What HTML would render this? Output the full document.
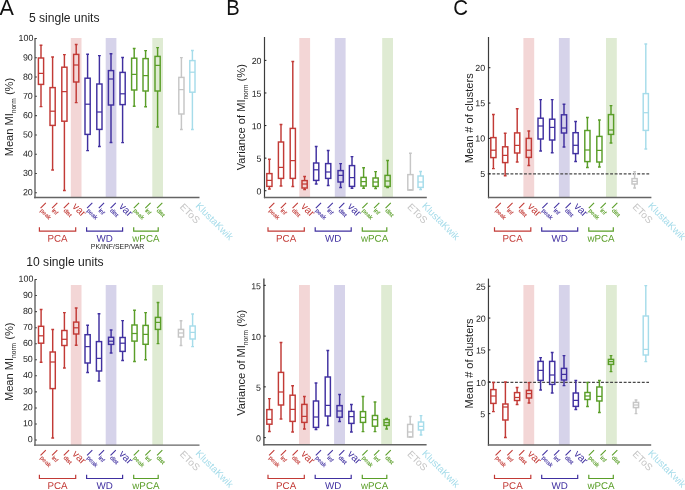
<!DOCTYPE html>
<html><head><meta charset="utf-8"><title>Figure</title>
<style>
html,body{margin:0;padding:0;background:#fff;}
body{width:685px;height:490px;overflow:hidden;}
svg{display:block;font-family:"Liberation Sans",Arial,Helvetica,sans-serif;}
</style></head><body>
<svg width="685" height="490" viewBox="0 0 685 490">
<rect width="685" height="490" fill="#fff"/>
<text transform="translate(-0.4,15.2) scale(1.05,1.05)" font-size="20.5" fill="#111">A</text>
<text transform="translate(226.3,15.2) scale(0.985,1.05)" font-size="20.5" fill="#111">B</text>
<text transform="translate(453.2,15.3) scale(1.0,1.05)" font-size="20.5" fill="#111">C</text>
<text x="28.9" y="22.1" font-size="12.1" fill="#1e1e1e">5 single units</text>
<text x="26.3" y="266.1" font-size="12.1" fill="#1e1e1e">10 single units</text>
<rect x="70.8" y="38" width="10.7" height="159.5" fill="#f3d6d6"/>
<rect x="105.7" y="38" width="10.7" height="159.5" fill="#d6d3ea"/>
<rect x="152.3" y="38" width="10.7" height="159.5" fill="#dfebd3"/>
<g stroke="#c23a36" stroke-width="1.45" fill="none">
<path d="M41 45.2V58M41 84.4V106.6M39.6 45.2H42.4M39.6 106.6H42.4"/>
<rect x="38.4" y="58" width="5.2" height="26.4"/>
<path d="M38.4 73.4H43.6" stroke-width="1.25"/>
</g>
<g stroke="#c23a36" stroke-width="1.45" fill="none">
<path d="M52.6 57V87.6M52.6 125.4V170M51.2 57H54.0M51.2 170H54.0"/>
<rect x="50.0" y="87.6" width="5.2" height="37.8"/>
<path d="M50.0 111.2H55.2" stroke-width="1.25"/>
</g>
<g stroke="#c23a36" stroke-width="1.45" fill="none">
<path d="M64.4 54.6V67.2M64.4 121.2V190.4M63.0 54.6H65.8M63.0 190.4H65.8"/>
<rect x="61.8" y="67.2" width="5.2" height="54.0"/>
<path d="M61.8 91.6H67.0" stroke-width="1.25"/>
</g>
<g stroke="#c23a36" stroke-width="1.45" fill="none">
<path d="M76.2 44.4V54.4M76.2 82V102.6M74.8 44.4H77.6M74.8 102.6H77.6"/>
<rect x="73.6" y="54.4" width="5.2" height="27.6"/>
<path d="M73.6 65H78.8" stroke-width="1.25"/>
</g>
<g stroke="#4030a0" stroke-width="1.45" fill="none">
<path d="M87.6 54.2V78.2M87.6 134.4V150.6M86.2 54.2H89.0M86.2 150.6H89.0"/>
<rect x="85.0" y="78.2" width="5.2" height="56.2"/>
<path d="M85.0 104.2H90.2" stroke-width="1.25"/>
</g>
<g stroke="#4030a0" stroke-width="1.45" fill="none">
<path d="M99.4 55.6V84M99.4 129.4V146.4M98.0 55.6H100.8M98.0 146.4H100.8"/>
<rect x="96.8" y="84" width="5.2" height="45.4"/>
<path d="M96.8 112H102.0" stroke-width="1.25"/>
</g>
<g stroke="#4030a0" stroke-width="1.45" fill="none">
<path d="M111 53.8V70.6M111 105V142.4M109.6 53.8H112.4M109.6 142.4H112.4"/>
<rect x="108.4" y="70.6" width="5.2" height="34.4"/>
<path d="M108.4 79H113.6" stroke-width="1.25"/>
</g>
<g stroke="#4030a0" stroke-width="1.45" fill="none">
<path d="M122.6 57.4V72.4M122.6 104.6V142.6M121.2 57.4H124.0M121.2 142.6H124.0"/>
<rect x="120.0" y="72.4" width="5.2" height="32.2"/>
<path d="M120.0 93.8H125.2" stroke-width="1.25"/>
</g>
<g stroke="#5a9e28" stroke-width="1.45" fill="none">
<path d="M134.2 48.4V58.2M134.2 90V106.2M132.8 48.4H135.6M132.8 106.2H135.6"/>
<rect x="131.6" y="58.2" width="5.2" height="31.8"/>
<path d="M131.6 74.4H136.8" stroke-width="1.25"/>
</g>
<g stroke="#5a9e28" stroke-width="1.45" fill="none">
<path d="M145.6 50.6V58.6M145.6 91V106.8M144.2 50.6H147.0M144.2 106.8H147.0"/>
<rect x="143.0" y="58.6" width="5.2" height="32.4"/>
<path d="M143.0 75.6H148.2" stroke-width="1.25"/>
</g>
<g stroke="#5a9e28" stroke-width="1.45" fill="none">
<path d="M157.6 47.6V56.4M157.6 91V127M156.2 47.6H159.0M156.2 127H159.0"/>
<rect x="155.0" y="56.4" width="5.2" height="34.6"/>
<path d="M155.0 65.4H160.2" stroke-width="1.25"/>
</g>
<g stroke="#c6c6c6" stroke-width="1.45" fill="none">
<path d="M181.4 57.6V77.4M181.4 114V129.4M180.0 57.6H182.8M180.0 129.4H182.8"/>
<rect x="178.8" y="77.4" width="5.2" height="36.6"/>
<path d="M178.8 89.6H184.0" stroke-width="1.25"/>
</g>
<g stroke="#a6dcea" stroke-width="1.45" fill="none">
<path d="M192.4 50.4V60.6M192.4 92.2V129.4M191.0 50.4H193.8M191.0 129.4H193.8"/>
<rect x="189.8" y="60.6" width="5.2" height="31.6"/>
<path d="M189.8 72.2H195.0" stroke-width="1.25"/>
</g>
<path d="M35.0 38.1V198.20" stroke="#868686" stroke-width="1.8" fill="none"/>
<path d="M34.10 197.5H199.5" stroke="#646464" stroke-width="1.4" fill="none"/>
<path d="M35.0 38.5h1.9" stroke="#444" stroke-width="1.05"/>
<text transform="translate(33.4,41.1) rotate(0.03)" font-size="8.9" text-anchor="end" fill="#1e1e1e">100</text>
<path d="M35.0 57.78h1.9" stroke="#444" stroke-width="1.05"/>
<text transform="translate(32.8,60.4) rotate(0.03)" font-size="8.9" text-anchor="end" fill="#1e1e1e">90</text>
<path d="M35.0 77.06h1.9" stroke="#444" stroke-width="1.05"/>
<text transform="translate(32.8,79.7) rotate(0.03)" font-size="8.9" text-anchor="end" fill="#1e1e1e">80</text>
<path d="M35.0 96.34h1.9" stroke="#444" stroke-width="1.05"/>
<text transform="translate(32.8,98.9) rotate(0.03)" font-size="8.9" text-anchor="end" fill="#1e1e1e">70</text>
<path d="M35.0 115.62h1.9" stroke="#444" stroke-width="1.05"/>
<text transform="translate(32.8,118.2) rotate(0.03)" font-size="8.9" text-anchor="end" fill="#1e1e1e">60</text>
<path d="M35.0 134.89999999999998h1.9" stroke="#444" stroke-width="1.05"/>
<text transform="translate(32.8,137.5) rotate(0.03)" font-size="8.9" text-anchor="end" fill="#1e1e1e">50</text>
<path d="M35.0 154.18h1.9" stroke="#444" stroke-width="1.05"/>
<text transform="translate(32.8,156.8) rotate(0.03)" font-size="8.9" text-anchor="end" fill="#1e1e1e">40</text>
<path d="M35.0 173.46h1.9" stroke="#444" stroke-width="1.05"/>
<text transform="translate(32.8,176.1) rotate(0.03)" font-size="8.9" text-anchor="end" fill="#1e1e1e">30</text>
<path d="M35.0 192.74h1.9" stroke="#444" stroke-width="1.05"/>
<text transform="translate(32.8,195.3) rotate(0.03)" font-size="8.9" text-anchor="end" fill="#1e1e1e">20</text>
<text transform="translate(39.5,206.9) rotate(45)" font-size="10.8" fill="#c23a36">I<tspan dy="2.6" dx="0.1" font-size="5.8" stroke="#c23a36" stroke-width="0.12">peak</tspan></text>
<text transform="translate(51.1,206.9) rotate(45)" font-size="10.8" fill="#c23a36">I<tspan dy="2.6" dx="0.1" font-size="5.8" stroke="#c23a36" stroke-width="0.12">inf</tspan></text>
<text transform="translate(62.8,206.9) rotate(45)" font-size="10.8" fill="#c23a36">I<tspan dy="2.6" dx="0.1" font-size="5.8" stroke="#c23a36" stroke-width="0.12">dist</tspan></text>
<text transform="translate(71.8,207.1) rotate(45)" font-size="10.4" fill="#c23a36">var</text>
<text transform="translate(86.1,206.9) rotate(45)" font-size="10.8" fill="#4030a0">I<tspan dy="2.6" dx="0.1" font-size="5.8" stroke="#4030a0" stroke-width="0.12">peak</tspan></text>
<text transform="translate(97.8,206.9) rotate(45)" font-size="10.8" fill="#4030a0">I<tspan dy="2.6" dx="0.1" font-size="5.8" stroke="#4030a0" stroke-width="0.12">inf</tspan></text>
<text transform="translate(109.4,206.9) rotate(45)" font-size="10.8" fill="#4030a0">I<tspan dy="2.6" dx="0.1" font-size="5.8" stroke="#4030a0" stroke-width="0.12">dist</tspan></text>
<text transform="translate(118.4,207.1) rotate(45)" font-size="10.4" fill="#4030a0">var</text>
<text transform="translate(132.7,206.9) rotate(45)" font-size="10.8" fill="#5a9e28">I<tspan dy="2.6" dx="0.1" font-size="5.8" stroke="#5a9e28" stroke-width="0.12">peak</tspan></text>
<text transform="translate(144.3,206.9) rotate(45)" font-size="10.8" fill="#5a9e28">I<tspan dy="2.6" dx="0.1" font-size="5.8" stroke="#5a9e28" stroke-width="0.12">inf</tspan></text>
<text transform="translate(156.0,206.9) rotate(45)" font-size="10.8" fill="#5a9e28">I<tspan dy="2.6" dx="0.1" font-size="5.8" stroke="#5a9e28" stroke-width="0.12">dist</tspan></text>
<text transform="translate(179.2,207.4) rotate(45)" font-size="9.9" fill="#c6c6c6">EToS</text>
<text transform="translate(195.0,206.6) rotate(45)" font-size="9.9" fill="#a6dcea">KlustaKwik</text>
<path d="M39.4 227.3V231.1H75.7V227.3" stroke="#c23a36" stroke-width="1.2" fill="none"/>
<text transform="translate(57.5,241.7) rotate(0.03)" font-size="9.8" text-anchor="middle" fill="#c23a36">PCA</text>
<path d="M86.6 227.3V231.1H122.6V227.3" stroke="#4030a0" stroke-width="1.2" fill="none"/>
<text transform="translate(104.6,241.7) rotate(0.03)" font-size="9.8" text-anchor="middle" fill="#4030a0">WD</text>
<path d="M133.7 227.3V231.1H158.2V227.3" stroke="#5a9e28" stroke-width="1.2" fill="none"/>
<text transform="translate(145.9,241.7) rotate(0.03)" font-size="9.8" text-anchor="middle" fill="#5a9e28">wPCA</text>
<text x="117.6" y="249.4" font-size="6.9" text-anchor="middle" fill="#222">PK/INF/SEP/VAR</text>
<text transform="translate(12.6,117.1) rotate(-90)" font-size="11.1" text-anchor="middle" fill="#1e1e1e">Mean MI<tspan dy="3.4" font-size="6.6">norm</tspan><tspan dy="-3.4"> (%)</tspan></text>
<rect x="299.3" y="38" width="10.8" height="159.5" fill="#f3d6d6"/>
<rect x="334.8" y="38" width="10.8" height="159.5" fill="#d6d3ea"/>
<rect x="382.2" y="38" width="10.8" height="159.5" fill="#dfebd3"/>
<g stroke="#c23a36" stroke-width="1.45" fill="none">
<path d="M269.4 159.2V173.6M269.4 186.4V189M268.0 159.2H270.8M268.0 189H270.8"/>
<rect x="266.8" y="173.6" width="5.2" height="12.8"/>
<path d="M266.8 180.4H272.0" stroke-width="1.25"/>
</g>
<g stroke="#c23a36" stroke-width="1.45" fill="none">
<path d="M281 124.4V142M281 178.4V186M279.6 124.4H282.4M279.6 186H282.4"/>
<rect x="278.4" y="142" width="5.2" height="36.4"/>
<path d="M278.4 167.4H283.6" stroke-width="1.25"/>
</g>
<g stroke="#c23a36" stroke-width="1.45" fill="none">
<path d="M292.8 61.4V128.4M292.8 178.4V186.4M291.4 61.4H294.2M291.4 186.4H294.2"/>
<rect x="290.2" y="128.4" width="5.2" height="50.0"/>
<path d="M290.2 160.6H295.4" stroke-width="1.25"/>
</g>
<g stroke="#c23a36" stroke-width="1.45" fill="none">
<path d="M304.6 176.4V180.6M304.6 188V189.4M303.2 176.4H306.0M303.2 189.4H306.0"/>
<rect x="302.0" y="180.6" width="5.2" height="7.4"/>
<path d="M302.0 184H307.2" stroke-width="1.25"/>
</g>
<g stroke="#4030a0" stroke-width="1.45" fill="none">
<path d="M316.2 146.4V163M316.2 180.4V184M314.8 146.4H317.6M314.8 184H317.6"/>
<rect x="313.6" y="163" width="5.2" height="17.4"/>
<path d="M313.6 169.8H318.8" stroke-width="1.25"/>
</g>
<g stroke="#4030a0" stroke-width="1.45" fill="none">
<path d="M328.2 150.4V163.6M328.2 178.4V185.4M326.8 150.4H329.6M326.8 185.4H329.6"/>
<rect x="325.6" y="163.6" width="5.2" height="14.8"/>
<path d="M325.6 172H330.8" stroke-width="1.25"/>
</g>
<g stroke="#4030a0" stroke-width="1.45" fill="none">
<path d="M340.6 163.6V170.6M340.6 182V187.4M339.2 163.6H342.0M339.2 187.4H342.0"/>
<rect x="338.0" y="170.6" width="5.2" height="11.4"/>
<path d="M338.0 175.4H343.2" stroke-width="1.25"/>
</g>
<g stroke="#4030a0" stroke-width="1.45" fill="none">
<path d="M352 156.6V165.6M352 186.4V188.2M350.6 156.6H353.4M350.6 188.2H353.4"/>
<rect x="349.4" y="165.6" width="5.2" height="20.8"/>
<path d="M349.4 177.6H354.6" stroke-width="1.25"/>
</g>
<g stroke="#5a9e28" stroke-width="1.45" fill="none">
<path d="M363.6 167.8V177.4M363.6 186V188.2M362.2 167.8H365.0M362.2 188.2H365.0"/>
<rect x="361.0" y="177.4" width="5.2" height="8.6"/>
<path d="M361.0 181.6H366.2" stroke-width="1.25"/>
</g>
<g stroke="#5a9e28" stroke-width="1.45" fill="none">
<path d="M375.6 171.6V178M375.6 186.4V188.4M374.2 171.6H377.0M374.2 188.4H377.0"/>
<rect x="373.0" y="178" width="5.2" height="8.4"/>
<path d="M373.0 182H378.2" stroke-width="1.25"/>
</g>
<g stroke="#5a9e28" stroke-width="1.45" fill="none">
<path d="M387.6 160.4V175.4M387.6 186.4V187.4M386.2 160.4H389.0M386.2 187.4H389.0"/>
<rect x="385.0" y="175.4" width="5.2" height="11.0"/>
<path d="M385.0 181H390.2" stroke-width="1.25"/>
</g>
<g stroke="#c6c6c6" stroke-width="1.45" fill="none">
<path d="M410.4 153.2V174.6M410.4 190V190M409.0 153.2H411.8M409.0 190H411.8"/>
<rect x="407.8" y="174.6" width="5.2" height="15.4"/>
<path d="M407.8 190H413.0" stroke-width="1.25"/>
</g>
<g stroke="#a6dcea" stroke-width="1.45" fill="none">
<path d="M420.6 171.4V176M420.6 187.4V189.4M419.2 171.4H422.0M419.2 189.4H422.0"/>
<rect x="418.0" y="176" width="5.2" height="11.4"/>
<path d="M418.0 182H423.2" stroke-width="1.25"/>
</g>
<path d="M264.5 37V198.20" stroke="#3c3c3c" stroke-width="1.2" fill="none"/>
<path d="M263.90 197.5H426.8" stroke="#646464" stroke-width="1.4" fill="none"/>
<path d="M264.5 60.400000000000006h1.9" stroke="#262626" stroke-width="1.05"/>
<text transform="translate(261.5,64.1) rotate(0.03)" font-size="8.9" text-anchor="end" fill="#1e1e1e">20</text>
<path d="M264.5 92.975h1.9" stroke="#262626" stroke-width="1.05"/>
<text transform="translate(261.5,96.7) rotate(0.03)" font-size="8.9" text-anchor="end" fill="#1e1e1e">15</text>
<path d="M264.5 125.55h1.9" stroke="#262626" stroke-width="1.05"/>
<text transform="translate(261.5,129.2) rotate(0.03)" font-size="8.9" text-anchor="end" fill="#1e1e1e">10</text>
<path d="M264.5 158.125h1.9" stroke="#262626" stroke-width="1.05"/>
<text transform="translate(261.5,161.8) rotate(0.03)" font-size="8.9" text-anchor="end" fill="#1e1e1e">5</text>
<path d="M264.5 190.7h1.9" stroke="#262626" stroke-width="1.05"/>
<text transform="translate(261.5,194.4) rotate(0.03)" font-size="8.9" text-anchor="end" fill="#1e1e1e">0</text>
<text transform="translate(268.1,206.9) rotate(45)" font-size="10.8" fill="#c23a36">I<tspan dy="2.6" dx="0.1" font-size="5.8" stroke="#c23a36" stroke-width="0.12">peak</tspan></text>
<text transform="translate(279.8,206.9) rotate(45)" font-size="10.8" fill="#c23a36">I<tspan dy="2.6" dx="0.1" font-size="5.8" stroke="#c23a36" stroke-width="0.12">inf</tspan></text>
<text transform="translate(291.4,206.9) rotate(45)" font-size="10.8" fill="#c23a36">I<tspan dy="2.6" dx="0.1" font-size="5.8" stroke="#c23a36" stroke-width="0.12">dist</tspan></text>
<text transform="translate(300.4,207.1) rotate(45)" font-size="10.4" fill="#c23a36">var</text>
<text transform="translate(314.7,206.9) rotate(45)" font-size="10.8" fill="#4030a0">I<tspan dy="2.6" dx="0.1" font-size="5.8" stroke="#4030a0" stroke-width="0.12">peak</tspan></text>
<text transform="translate(326.4,206.9) rotate(45)" font-size="10.8" fill="#4030a0">I<tspan dy="2.6" dx="0.1" font-size="5.8" stroke="#4030a0" stroke-width="0.12">inf</tspan></text>
<text transform="translate(338.0,206.9) rotate(45)" font-size="10.8" fill="#4030a0">I<tspan dy="2.6" dx="0.1" font-size="5.8" stroke="#4030a0" stroke-width="0.12">dist</tspan></text>
<text transform="translate(347.1,207.1) rotate(45)" font-size="10.4" fill="#4030a0">var</text>
<text transform="translate(361.3,206.9) rotate(45)" font-size="10.8" fill="#5a9e28">I<tspan dy="2.6" dx="0.1" font-size="5.8" stroke="#5a9e28" stroke-width="0.12">peak</tspan></text>
<text transform="translate(373.0,206.9) rotate(45)" font-size="10.8" fill="#5a9e28">I<tspan dy="2.6" dx="0.1" font-size="5.8" stroke="#5a9e28" stroke-width="0.12">inf</tspan></text>
<text transform="translate(384.6,206.9) rotate(45)" font-size="10.8" fill="#5a9e28">I<tspan dy="2.6" dx="0.1" font-size="5.8" stroke="#5a9e28" stroke-width="0.12">dist</tspan></text>
<text transform="translate(406.8,207.4) rotate(45)" font-size="9.9" fill="#c6c6c6">EToS</text>
<text transform="translate(421.4,206.6) rotate(45)" font-size="9.9" fill="#a6dcea">KlustaKwik</text>
<path d="M268.0 227.3V231.1H304.3V227.3" stroke="#c23a36" stroke-width="1.2" fill="none"/>
<text transform="translate(286.1,241.7) rotate(0.03)" font-size="9.8" text-anchor="middle" fill="#c23a36">PCA</text>
<path d="M315.2 227.3V231.1H351.2V227.3" stroke="#4030a0" stroke-width="1.2" fill="none"/>
<text transform="translate(333.2,241.7) rotate(0.03)" font-size="9.8" text-anchor="middle" fill="#4030a0">WD</text>
<path d="M362.3 227.3V231.1H386.8V227.3" stroke="#5a9e28" stroke-width="1.2" fill="none"/>
<text transform="translate(374.6,241.7) rotate(0.03)" font-size="9.8" text-anchor="middle" fill="#5a9e28">wPCA</text>
<text transform="translate(245.0,117.2) rotate(-90)" font-size="11.1" text-anchor="middle" fill="#1e1e1e">Variance of MI<tspan dy="3.4" font-size="6.6">norm</tspan><tspan dy="-3.4"> (%)</tspan></text>
<rect x="523.4" y="38" width="10.8" height="159.5" fill="#f3d6d6"/>
<rect x="558.9" y="38" width="10.8" height="159.5" fill="#d6d3ea"/>
<rect x="606" y="38" width="10.8" height="159.5" fill="#dfebd3"/>
<line x1="487.8" y1="173.8" x2="649.2" y2="173.8" stroke="#484848" stroke-width="1.15" stroke-dasharray="2.9 1.63"/>
<g stroke="#c23a36" stroke-width="1.45" fill="none">
<path d="M493.4 114.4V137.6M493.4 157.6V168.6M492.0 114.4H494.8M492.0 168.6H494.8"/>
<rect x="490.8" y="137.6" width="5.2" height="20.0"/>
<path d="M490.8 150.2H496.0" stroke-width="1.25"/>
</g>
<g stroke="#c23a36" stroke-width="1.45" fill="none">
<path d="M505.2 133.2V146.8M505.2 162.6V175.8M503.8 133.2H506.6M503.8 175.8H506.6"/>
<rect x="502.6" y="146.8" width="5.2" height="15.8"/>
<path d="M502.6 155.4H507.8" stroke-width="1.25"/>
</g>
<g stroke="#c23a36" stroke-width="1.45" fill="none">
<path d="M517.2 108.8V132.9M517.2 153V162M515.8 108.8H518.6M515.8 162H518.6"/>
<rect x="514.6" y="132.9" width="5.2" height="20.1"/>
<path d="M514.6 145.4H519.8" stroke-width="1.25"/>
</g>
<g stroke="#c23a36" stroke-width="1.45" fill="none">
<path d="M528.8 131V138.4M528.8 157.4V165.4M527.4 131H530.2M527.4 165.4H530.2"/>
<rect x="526.2" y="138.4" width="5.2" height="19.0"/>
<path d="M526.2 150.2H531.4" stroke-width="1.25"/>
</g>
<g stroke="#4030a0" stroke-width="1.45" fill="none">
<path d="M540.6 99.6V118.2M540.6 139V151M539.2 99.6H542.0M539.2 151H542.0"/>
<rect x="538.0" y="118.2" width="5.2" height="20.8"/>
<path d="M538.0 126H543.2" stroke-width="1.25"/>
</g>
<g stroke="#4030a0" stroke-width="1.45" fill="none">
<path d="M552.2 99.6V119.2M552.2 140V152.8M550.8 99.6H553.6M550.8 152.8H553.6"/>
<rect x="549.6" y="119.2" width="5.2" height="20.8"/>
<path d="M549.6 127.4H554.8" stroke-width="1.25"/>
</g>
<g stroke="#4030a0" stroke-width="1.45" fill="none">
<path d="M564 104.2V114.8M564 133V147M562.6 104.2H565.4M562.6 147H565.4"/>
<rect x="561.4" y="114.8" width="5.2" height="18.2"/>
<path d="M561.4 128H566.6" stroke-width="1.25"/>
</g>
<g stroke="#4030a0" stroke-width="1.45" fill="none">
<path d="M575.6 121.5V132.7M575.6 153.6V161.4M574.2 121.5H577.0M574.2 161.4H577.0"/>
<rect x="573.0" y="132.7" width="5.2" height="20.9"/>
<path d="M573.0 145.3H578.2" stroke-width="1.25"/>
</g>
<g stroke="#5a9e28" stroke-width="1.45" fill="none">
<path d="M587.4 117.5V130.5M587.4 161.6V167.4M586.0 117.5H588.8M586.0 167.4H588.8"/>
<rect x="584.8" y="130.5" width="5.2" height="31.1"/>
<path d="M584.8 150H590.0" stroke-width="1.25"/>
</g>
<g stroke="#5a9e28" stroke-width="1.45" fill="none">
<path d="M599.4 120V136.4M599.4 162V167M598.0 120H600.8M598.0 167H600.8"/>
<rect x="596.8" y="136.4" width="5.2" height="25.6"/>
<path d="M596.8 150.4H602.0" stroke-width="1.25"/>
</g>
<g stroke="#5a9e28" stroke-width="1.45" fill="none">
<path d="M611 105.6V114.6M611 134.4V143M609.6 105.6H612.4M609.6 143H612.4"/>
<rect x="608.4" y="114.6" width="5.2" height="19.8"/>
<path d="M608.4 130H613.6" stroke-width="1.25"/>
</g>
<g stroke="#c6c6c6" stroke-width="1.45" fill="none">
<path d="M634.6 171.6V178.6M634.6 184V188M633.2 171.6H636.0M633.2 188H636.0"/>
<rect x="632.0" y="178.6" width="5.2" height="5.4"/>
<path d="M632.0 181.4H637.2" stroke-width="1.25"/>
</g>
<g stroke="#a6dcea" stroke-width="1.45" fill="none">
<path d="M645.8 44V93.6M645.8 130.4V149M644.4 44H647.2M644.4 149H647.2"/>
<rect x="643.2" y="93.6" width="5.2" height="36.8"/>
<path d="M643.2 112.7H648.4" stroke-width="1.25"/>
</g>
<path d="M488.5 37V198.20" stroke="#3c3c3c" stroke-width="1.2" fill="none"/>
<path d="M487.90 197.5H651.4" stroke="#646464" stroke-width="1.4" fill="none"/>
<path d="M488.5 67.7h1.9" stroke="#262626" stroke-width="1.05"/>
<text transform="translate(485.1,70.9) rotate(0.03)" font-size="8.9" text-anchor="end" fill="#1e1e1e">20</text>
<path d="M488.5 103.05000000000001h1.9" stroke="#262626" stroke-width="1.05"/>
<text transform="translate(485.1,106.3) rotate(0.03)" font-size="8.9" text-anchor="end" fill="#1e1e1e">15</text>
<path d="M488.5 138.4h1.9" stroke="#262626" stroke-width="1.05"/>
<text transform="translate(485.1,141.6) rotate(0.03)" font-size="8.9" text-anchor="end" fill="#1e1e1e">10</text>
<path d="M488.5 173.75h1.9" stroke="#262626" stroke-width="1.05"/>
<text transform="translate(485.1,176.9) rotate(0.03)" font-size="8.9" text-anchor="end" fill="#1e1e1e">5</text>
<text transform="translate(494.6,206.9) rotate(45)" font-size="10.8" fill="#c23a36">I<tspan dy="2.6" dx="0.1" font-size="5.8" stroke="#c23a36" stroke-width="0.12">peak</tspan></text>
<text transform="translate(506.2,206.9) rotate(45)" font-size="10.8" fill="#c23a36">I<tspan dy="2.6" dx="0.1" font-size="5.8" stroke="#c23a36" stroke-width="0.12">inf</tspan></text>
<text transform="translate(517.9,206.9) rotate(45)" font-size="10.8" fill="#c23a36">I<tspan dy="2.6" dx="0.1" font-size="5.8" stroke="#c23a36" stroke-width="0.12">dist</tspan></text>
<text transform="translate(527.0,207.1) rotate(45)" font-size="10.4" fill="#c23a36">var</text>
<text transform="translate(541.2,206.9) rotate(45)" font-size="10.8" fill="#4030a0">I<tspan dy="2.6" dx="0.1" font-size="5.8" stroke="#4030a0" stroke-width="0.12">peak</tspan></text>
<text transform="translate(552.9,206.9) rotate(45)" font-size="10.8" fill="#4030a0">I<tspan dy="2.6" dx="0.1" font-size="5.8" stroke="#4030a0" stroke-width="0.12">inf</tspan></text>
<text transform="translate(564.5,206.9) rotate(45)" font-size="10.8" fill="#4030a0">I<tspan dy="2.6" dx="0.1" font-size="5.8" stroke="#4030a0" stroke-width="0.12">dist</tspan></text>
<text transform="translate(573.5,207.1) rotate(45)" font-size="10.4" fill="#4030a0">var</text>
<text transform="translate(587.8,206.9) rotate(45)" font-size="10.8" fill="#5a9e28">I<tspan dy="2.6" dx="0.1" font-size="5.8" stroke="#5a9e28" stroke-width="0.12">peak</tspan></text>
<text transform="translate(599.5,206.9) rotate(45)" font-size="10.8" fill="#5a9e28">I<tspan dy="2.6" dx="0.1" font-size="5.8" stroke="#5a9e28" stroke-width="0.12">inf</tspan></text>
<text transform="translate(611.1,206.9) rotate(45)" font-size="10.8" fill="#5a9e28">I<tspan dy="2.6" dx="0.1" font-size="5.8" stroke="#5a9e28" stroke-width="0.12">dist</tspan></text>
<text transform="translate(632.0,207.4) rotate(45)" font-size="9.9" fill="#c6c6c6">EToS</text>
<text transform="translate(647.6,206.6) rotate(45)" font-size="9.9" fill="#a6dcea">KlustaKwik</text>
<path d="M494.5 227.3V231.1H530.8V227.3" stroke="#c23a36" stroke-width="1.2" fill="none"/>
<text transform="translate(512.6,241.7) rotate(0.03)" font-size="9.8" text-anchor="middle" fill="#c23a36">PCA</text>
<path d="M541.7 227.3V231.1H577.7V227.3" stroke="#4030a0" stroke-width="1.2" fill="none"/>
<text transform="translate(559.7,241.7) rotate(0.03)" font-size="9.8" text-anchor="middle" fill="#4030a0">WD</text>
<path d="M588.8 227.3V231.1H613.3V227.3" stroke="#5a9e28" stroke-width="1.2" fill="none"/>
<text transform="translate(601.0,241.7) rotate(0.03)" font-size="9.8" text-anchor="middle" fill="#5a9e28">wPCA</text>
<text transform="translate(472.6,118.3) rotate(-90)" font-size="11" text-anchor="middle" fill="#1e1e1e">Mean # of clusters</text>
<rect x="70.8" y="285" width="10.7" height="160.1" fill="#f3d6d6"/>
<rect x="105.7" y="285" width="10.7" height="160.1" fill="#d6d3ea"/>
<rect x="152.3" y="285" width="10.7" height="160.1" fill="#dfebd3"/>
<g stroke="#c23a36" stroke-width="1.45" fill="none">
<path d="M41.1 309.4V326.3M41.1 343.2V362.2M39.7 309.4H42.5M39.7 362.2H42.5"/>
<rect x="38.5" y="326.3" width="5.2" height="16.9"/>
<path d="M38.5 335.8H43.7" stroke-width="1.25"/>
</g>
<g stroke="#c23a36" stroke-width="1.45" fill="none">
<path d="M52.7 329.5V352M52.7 388.6V438M51.3 329.5H54.1M51.3 438H54.1"/>
<rect x="50.1" y="352" width="5.2" height="36.6"/>
<path d="M50.1 362H55.3" stroke-width="1.25"/>
</g>
<g stroke="#c23a36" stroke-width="1.45" fill="none">
<path d="M64.4 312.6V330.5M64.4 345.5V368M63.0 312.6H65.8M63.0 368H65.8"/>
<rect x="61.8" y="330.5" width="5.2" height="15.0"/>
<path d="M61.8 339.3H67.0" stroke-width="1.25"/>
</g>
<g stroke="#c23a36" stroke-width="1.45" fill="none">
<path d="M76.2 308V322.1M76.2 334V345.3M74.8 308H77.6M74.8 345.3H77.6"/>
<rect x="73.6" y="322.1" width="5.2" height="11.9"/>
<path d="M73.6 327.8H78.8" stroke-width="1.25"/>
</g>
<g stroke="#4030a0" stroke-width="1.45" fill="none">
<path d="M87.6 325.3V334.7M87.6 363V372.4M86.2 325.3H89.0M86.2 372.4H89.0"/>
<rect x="85.0" y="334.7" width="5.2" height="28.3"/>
<path d="M85.0 346.6H90.2" stroke-width="1.25"/>
</g>
<g stroke="#4030a0" stroke-width="1.45" fill="none">
<path d="M99 313.8V341.6M99 371V381M97.6 313.8H100.4M97.6 381H100.4"/>
<rect x="96.4" y="341.6" width="5.2" height="29.4"/>
<path d="M96.4 358.4H101.6" stroke-width="1.25"/>
</g>
<g stroke="#4030a0" stroke-width="1.45" fill="none">
<path d="M111.1 330V337.3M111.1 344.4V353M109.7 330H112.5M109.7 353H112.5"/>
<rect x="108.5" y="337.3" width="5.2" height="7.1"/>
<path d="M108.5 341.2H113.7" stroke-width="1.25"/>
</g>
<g stroke="#4030a0" stroke-width="1.45" fill="none">
<path d="M122.6 320.6V337.5M122.6 351.4V360.5M121.2 320.6H124.0M121.2 360.5H124.0"/>
<rect x="120.0" y="337.5" width="5.2" height="13.9"/>
<path d="M120.0 343.2H125.2" stroke-width="1.25"/>
</g>
<g stroke="#5a9e28" stroke-width="1.45" fill="none">
<path d="M134.5 310.2V325M134.5 341.1V361.5M133.1 310.2H135.9M133.1 361.5H135.9"/>
<rect x="131.9" y="325" width="5.2" height="16.1"/>
<path d="M131.9 333.5H137.1" stroke-width="1.25"/>
</g>
<g stroke="#5a9e28" stroke-width="1.45" fill="none">
<path d="M145.6 312.6V325.4M145.6 344.3V359.8M144.2 312.6H147.0M144.2 359.8H147.0"/>
<rect x="143.0" y="325.4" width="5.2" height="18.9"/>
<path d="M143.0 334.4H148.2" stroke-width="1.25"/>
</g>
<g stroke="#5a9e28" stroke-width="1.45" fill="none">
<path d="M158 302.4V317.4M158 329.4V343.6M156.6 302.4H159.4M156.6 343.6H159.4"/>
<rect x="155.4" y="317.4" width="5.2" height="12.0"/>
<path d="M155.4 322.4H160.6" stroke-width="1.25"/>
</g>
<g stroke="#c6c6c6" stroke-width="1.45" fill="none">
<path d="M181 320.8V329.4M181 337V345.4M179.6 320.8H182.4M179.6 345.4H182.4"/>
<rect x="178.4" y="329.4" width="5.2" height="7.6"/>
<path d="M178.4 333H183.6" stroke-width="1.25"/>
</g>
<g stroke="#a6dcea" stroke-width="1.45" fill="none">
<path d="M192.6 314V326M192.6 339V346.6M191.2 314H194.0M191.2 346.6H194.0"/>
<rect x="190.0" y="326" width="5.2" height="13.0"/>
<path d="M190.0 332.4H195.2" stroke-width="1.25"/>
</g>
<path d="M35.0 279.2V445.80" stroke="#868686" stroke-width="1.8" fill="none"/>
<path d="M34.10 445.1H199.5" stroke="#646464" stroke-width="1.4" fill="none"/>
<path d="M35.0 279.5h1.9" stroke="#444" stroke-width="1.05"/>
<text transform="translate(33.4,281.8) rotate(0.03)" font-size="8.9" text-anchor="end" fill="#1e1e1e">100</text>
<path d="M35.0 295.55h1.9" stroke="#444" stroke-width="1.05"/>
<text transform="translate(32.8,297.9) rotate(0.03)" font-size="8.9" text-anchor="end" fill="#1e1e1e">90</text>
<path d="M35.0 311.6h1.9" stroke="#444" stroke-width="1.05"/>
<text transform="translate(32.8,313.9) rotate(0.03)" font-size="8.9" text-anchor="end" fill="#1e1e1e">80</text>
<path d="M35.0 327.65h1.9" stroke="#444" stroke-width="1.05"/>
<text transform="translate(32.8,329.9) rotate(0.03)" font-size="8.9" text-anchor="end" fill="#1e1e1e">70</text>
<path d="M35.0 343.7h1.9" stroke="#444" stroke-width="1.05"/>
<text transform="translate(32.8,346.0) rotate(0.03)" font-size="8.9" text-anchor="end" fill="#1e1e1e">60</text>
<path d="M35.0 359.75h1.9" stroke="#444" stroke-width="1.05"/>
<text transform="translate(32.8,362.1) rotate(0.03)" font-size="8.9" text-anchor="end" fill="#1e1e1e">50</text>
<path d="M35.0 375.8h1.9" stroke="#444" stroke-width="1.05"/>
<text transform="translate(32.8,378.1) rotate(0.03)" font-size="8.9" text-anchor="end" fill="#1e1e1e">40</text>
<path d="M35.0 391.85h1.9" stroke="#444" stroke-width="1.05"/>
<text transform="translate(32.8,394.2) rotate(0.03)" font-size="8.9" text-anchor="end" fill="#1e1e1e">30</text>
<path d="M35.0 407.9h1.9" stroke="#444" stroke-width="1.05"/>
<text transform="translate(32.8,410.2) rotate(0.03)" font-size="8.9" text-anchor="end" fill="#1e1e1e">20</text>
<path d="M35.0 423.95h1.9" stroke="#444" stroke-width="1.05"/>
<text transform="translate(32.8,426.2) rotate(0.03)" font-size="8.9" text-anchor="end" fill="#1e1e1e">10</text>
<path d="M35.0 440.0h1.9" stroke="#444" stroke-width="1.05"/>
<text transform="translate(32.8,442.3) rotate(0.03)" font-size="8.9" text-anchor="end" fill="#1e1e1e">0</text>
<text transform="translate(39.5,454.3) rotate(45)" font-size="10.8" fill="#c23a36">I<tspan dy="2.6" dx="0.1" font-size="5.8" stroke="#c23a36" stroke-width="0.12">peak</tspan></text>
<text transform="translate(51.1,454.3) rotate(45)" font-size="10.8" fill="#c23a36">I<tspan dy="2.6" dx="0.1" font-size="5.8" stroke="#c23a36" stroke-width="0.12">inf</tspan></text>
<text transform="translate(62.8,454.3) rotate(45)" font-size="10.8" fill="#c23a36">I<tspan dy="2.6" dx="0.1" font-size="5.8" stroke="#c23a36" stroke-width="0.12">dist</tspan></text>
<text transform="translate(71.8,454.5) rotate(45)" font-size="10.4" fill="#c23a36">var</text>
<text transform="translate(86.1,454.3) rotate(45)" font-size="10.8" fill="#4030a0">I<tspan dy="2.6" dx="0.1" font-size="5.8" stroke="#4030a0" stroke-width="0.12">peak</tspan></text>
<text transform="translate(97.8,454.3) rotate(45)" font-size="10.8" fill="#4030a0">I<tspan dy="2.6" dx="0.1" font-size="5.8" stroke="#4030a0" stroke-width="0.12">inf</tspan></text>
<text transform="translate(109.4,454.3) rotate(45)" font-size="10.8" fill="#4030a0">I<tspan dy="2.6" dx="0.1" font-size="5.8" stroke="#4030a0" stroke-width="0.12">dist</tspan></text>
<text transform="translate(118.4,454.5) rotate(45)" font-size="10.4" fill="#4030a0">var</text>
<text transform="translate(132.7,454.3) rotate(45)" font-size="10.8" fill="#5a9e28">I<tspan dy="2.6" dx="0.1" font-size="5.8" stroke="#5a9e28" stroke-width="0.12">peak</tspan></text>
<text transform="translate(144.3,454.3) rotate(45)" font-size="10.8" fill="#5a9e28">I<tspan dy="2.6" dx="0.1" font-size="5.8" stroke="#5a9e28" stroke-width="0.12">inf</tspan></text>
<text transform="translate(156.0,454.3) rotate(45)" font-size="10.8" fill="#5a9e28">I<tspan dy="2.6" dx="0.1" font-size="5.8" stroke="#5a9e28" stroke-width="0.12">dist</tspan></text>
<text transform="translate(179.2,454.8) rotate(45)" font-size="9.9" fill="#c6c6c6">EToS</text>
<text transform="translate(195.0,454.0) rotate(45)" font-size="9.9" fill="#a6dcea">KlustaKwik</text>
<path d="M39.4 474.7V478.5H75.7V474.7" stroke="#c23a36" stroke-width="1.2" fill="none"/>
<text transform="translate(57.5,489.1) rotate(0.03)" font-size="9.8" text-anchor="middle" fill="#c23a36">PCA</text>
<path d="M86.6 474.7V478.5H122.6V474.7" stroke="#4030a0" stroke-width="1.2" fill="none"/>
<text transform="translate(104.6,489.1) rotate(0.03)" font-size="9.8" text-anchor="middle" fill="#4030a0">WD</text>
<path d="M133.7 474.7V478.5H158.2V474.7" stroke="#5a9e28" stroke-width="1.2" fill="none"/>
<text transform="translate(145.9,489.1) rotate(0.03)" font-size="9.8" text-anchor="middle" fill="#5a9e28">wPCA</text>
<text transform="translate(13.0,361.8) rotate(-90)" font-size="11.1" text-anchor="middle" fill="#1e1e1e">Mean MI<tspan dy="3.4" font-size="6.6">norm</tspan><tspan dy="-3.4"> (%)</tspan></text>
<rect x="299.0" y="285" width="10.9" height="159.8" fill="#f3d6d6"/>
<rect x="334.1" y="285" width="10.9" height="159.8" fill="#d6d3ea"/>
<rect x="381.2" y="285" width="10.8" height="159.8" fill="#dfebd3"/>
<g stroke="#c23a36" stroke-width="1.45" fill="none">
<path d="M269.4 398.6V409.6M269.4 424.2V431.4M268.0 398.6H270.8M268.0 431.4H270.8"/>
<rect x="266.8" y="409.6" width="5.2" height="14.6"/>
<path d="M266.8 419.4H272.0" stroke-width="1.25"/>
</g>
<g stroke="#c23a36" stroke-width="1.45" fill="none">
<path d="M281 342.4V372.4M281 405V419M279.6 342.4H282.4M279.6 419H282.4"/>
<rect x="278.4" y="372.4" width="5.2" height="32.6"/>
<path d="M278.4 392H283.6" stroke-width="1.25"/>
</g>
<g stroke="#c23a36" stroke-width="1.45" fill="none">
<path d="M292.6 385.8V395.2M292.6 421.4V432M291.2 385.8H294.0M291.2 432H294.0"/>
<rect x="290.0" y="395.2" width="5.2" height="26.2"/>
<path d="M290.0 409.4H295.2" stroke-width="1.25"/>
</g>
<g stroke="#c23a36" stroke-width="1.45" fill="none">
<path d="M304.4 396.4V404.4M304.4 422.4V429M303.0 396.4H305.8M303.0 429H305.8"/>
<rect x="301.8" y="404.4" width="5.2" height="18.0"/>
<path d="M301.8 416.4H307.0" stroke-width="1.25"/>
</g>
<g stroke="#4030a0" stroke-width="1.45" fill="none">
<path d="M316 383V401M316 427.4V429.4M314.6 383H317.4M314.6 429.4H317.4"/>
<rect x="313.4" y="401" width="5.2" height="26.4"/>
<path d="M313.4 417H318.6" stroke-width="1.25"/>
</g>
<g stroke="#4030a0" stroke-width="1.45" fill="none">
<path d="M327.8 350.4V377M327.8 416V425.4M326.4 350.4H329.2M326.4 425.4H329.2"/>
<rect x="325.2" y="377" width="5.2" height="39.0"/>
<path d="M325.2 405.4H330.4" stroke-width="1.25"/>
</g>
<g stroke="#4030a0" stroke-width="1.45" fill="none">
<path d="M339.6 394.4V405.6M339.6 417.2V421.4M338.2 394.4H341.0M338.2 421.4H341.0"/>
<rect x="337.0" y="405.6" width="5.2" height="11.6"/>
<path d="M337.0 411H342.2" stroke-width="1.25"/>
</g>
<g stroke="#4030a0" stroke-width="1.45" fill="none">
<path d="M351.4 404.4V411.4M351.4 423.4V432M350.0 404.4H352.8M350.0 432H352.8"/>
<rect x="348.8" y="411.4" width="5.2" height="12.0"/>
<path d="M348.8 416.6H354.0" stroke-width="1.25"/>
</g>
<g stroke="#5a9e28" stroke-width="1.45" fill="none">
<path d="M363 396.4V411.6M363 422.4V431.6M361.6 396.4H364.4M361.6 431.6H364.4"/>
<rect x="360.4" y="411.6" width="5.2" height="10.8"/>
<path d="M360.4 417.4H365.6" stroke-width="1.25"/>
</g>
<g stroke="#5a9e28" stroke-width="1.45" fill="none">
<path d="M375 402V415.5M375 426.2V431.6M373.6 402H376.4M373.6 431.6H376.4"/>
<rect x="372.4" y="415.5" width="5.2" height="10.7"/>
<path d="M372.4 419.7H377.6" stroke-width="1.25"/>
</g>
<g stroke="#5a9e28" stroke-width="1.45" fill="none">
<path d="M386.6 418.4V419.6M386.6 425.4V429M385.2 418.4H388.0M385.2 429H388.0"/>
<rect x="384.0" y="419.6" width="5.2" height="5.8"/>
<path d="M384.0 422.6H389.2" stroke-width="1.25"/>
</g>
<g stroke="#c6c6c6" stroke-width="1.45" fill="none">
<path d="M410.2 416.4V424.4M410.2 437V437M408.8 416.4H411.6M408.8 437H411.6"/>
<rect x="407.6" y="424.4" width="5.2" height="12.6"/>
<path d="M407.6 432H412.8" stroke-width="1.25"/>
</g>
<g stroke="#a6dcea" stroke-width="1.45" fill="none">
<path d="M421 415.6V422M421 430V435M419.6 415.6H422.4M419.6 435H422.4"/>
<rect x="418.4" y="422" width="5.2" height="8.0"/>
<path d="M418.4 426.4H423.6" stroke-width="1.25"/>
</g>
<path d="M263.9 278.4V445.50" stroke="#3c3c3c" stroke-width="1.3" fill="none"/>
<path d="M263.25 444.8H426.6" stroke="#646464" stroke-width="1.4" fill="none"/>
<path d="M263.9 285.35h1.9" stroke="#262626" stroke-width="1.05"/>
<text transform="translate(261.0,289.2) rotate(0.03)" font-size="8.9" text-anchor="end" fill="#1e1e1e">15</text>
<path d="M263.9 336.1h1.9" stroke="#262626" stroke-width="1.05"/>
<text transform="translate(261.0,340.0) rotate(0.03)" font-size="8.9" text-anchor="end" fill="#1e1e1e">10</text>
<path d="M263.9 386.85h1.9" stroke="#262626" stroke-width="1.05"/>
<text transform="translate(261.0,390.8) rotate(0.03)" font-size="8.9" text-anchor="end" fill="#1e1e1e">5</text>
<path d="M263.9 437.6h1.9" stroke="#262626" stroke-width="1.05"/>
<text transform="translate(261.0,441.5) rotate(0.03)" font-size="8.9" text-anchor="end" fill="#1e1e1e">0</text>
<text transform="translate(268.1,454.3) rotate(45)" font-size="10.8" fill="#c23a36">I<tspan dy="2.6" dx="0.1" font-size="5.8" stroke="#c23a36" stroke-width="0.12">peak</tspan></text>
<text transform="translate(279.8,454.3) rotate(45)" font-size="10.8" fill="#c23a36">I<tspan dy="2.6" dx="0.1" font-size="5.8" stroke="#c23a36" stroke-width="0.12">inf</tspan></text>
<text transform="translate(291.4,454.3) rotate(45)" font-size="10.8" fill="#c23a36">I<tspan dy="2.6" dx="0.1" font-size="5.8" stroke="#c23a36" stroke-width="0.12">dist</tspan></text>
<text transform="translate(300.4,454.5) rotate(45)" font-size="10.4" fill="#c23a36">var</text>
<text transform="translate(314.7,454.3) rotate(45)" font-size="10.8" fill="#4030a0">I<tspan dy="2.6" dx="0.1" font-size="5.8" stroke="#4030a0" stroke-width="0.12">peak</tspan></text>
<text transform="translate(326.4,454.3) rotate(45)" font-size="10.8" fill="#4030a0">I<tspan dy="2.6" dx="0.1" font-size="5.8" stroke="#4030a0" stroke-width="0.12">inf</tspan></text>
<text transform="translate(338.0,454.3) rotate(45)" font-size="10.8" fill="#4030a0">I<tspan dy="2.6" dx="0.1" font-size="5.8" stroke="#4030a0" stroke-width="0.12">dist</tspan></text>
<text transform="translate(347.1,454.5) rotate(45)" font-size="10.4" fill="#4030a0">var</text>
<text transform="translate(361.3,454.3) rotate(45)" font-size="10.8" fill="#5a9e28">I<tspan dy="2.6" dx="0.1" font-size="5.8" stroke="#5a9e28" stroke-width="0.12">peak</tspan></text>
<text transform="translate(373.0,454.3) rotate(45)" font-size="10.8" fill="#5a9e28">I<tspan dy="2.6" dx="0.1" font-size="5.8" stroke="#5a9e28" stroke-width="0.12">inf</tspan></text>
<text transform="translate(384.6,454.3) rotate(45)" font-size="10.8" fill="#5a9e28">I<tspan dy="2.6" dx="0.1" font-size="5.8" stroke="#5a9e28" stroke-width="0.12">dist</tspan></text>
<text transform="translate(406.8,454.8) rotate(45)" font-size="9.9" fill="#c6c6c6">EToS</text>
<text transform="translate(421.4,454.0) rotate(45)" font-size="9.9" fill="#a6dcea">KlustaKwik</text>
<path d="M268.0 474.7V478.5H304.3V474.7" stroke="#c23a36" stroke-width="1.2" fill="none"/>
<text transform="translate(286.1,489.1) rotate(0.03)" font-size="9.8" text-anchor="middle" fill="#c23a36">PCA</text>
<path d="M315.2 474.7V478.5H351.2V474.7" stroke="#4030a0" stroke-width="1.2" fill="none"/>
<text transform="translate(333.2,489.1) rotate(0.03)" font-size="9.8" text-anchor="middle" fill="#4030a0">WD</text>
<path d="M362.3 474.7V478.5H386.8V474.7" stroke="#5a9e28" stroke-width="1.2" fill="none"/>
<text transform="translate(374.6,489.1) rotate(0.03)" font-size="9.8" text-anchor="middle" fill="#5a9e28">wPCA</text>
<text transform="translate(244.8,362.8) rotate(-90)" font-size="11.1" text-anchor="middle" fill="#1e1e1e">Variance of MI<tspan dy="3.4" font-size="6.6">norm</tspan><tspan dy="-3.4"> (%)</tspan></text>
<rect x="523.4" y="285" width="10.8" height="160.0" fill="#f3d6d6"/>
<rect x="558.9" y="285" width="10.8" height="160.0" fill="#d6d3ea"/>
<rect x="606" y="285" width="10.8" height="160.0" fill="#dfebd3"/>
<line x1="487.8" y1="382.4" x2="649.0" y2="382.4" stroke="#484848" stroke-width="1.15" stroke-dasharray="2.9 1.63"/>
<g stroke="#c23a36" stroke-width="1.45" fill="none">
<path d="M493.4 382.4V389.6M493.4 403.4V411.6M492.0 382.4H494.8M492.0 411.6H494.8"/>
<rect x="490.8" y="389.6" width="5.2" height="13.8"/>
<path d="M490.8 396H496.0" stroke-width="1.25"/>
</g>
<g stroke="#c23a36" stroke-width="1.45" fill="none">
<path d="M505.4 382V404M505.4 420V437.4M504.0 382H506.8M504.0 437.4H506.8"/>
<rect x="502.8" y="404" width="5.2" height="16.0"/>
<path d="M502.8 407H508.0" stroke-width="1.25"/>
</g>
<g stroke="#c23a36" stroke-width="1.45" fill="none">
<path d="M517.1 387.5V392.6M517.1 400.5V404.5M515.7 387.5H518.5M515.7 404.5H518.5"/>
<rect x="514.5" y="392.6" width="5.2" height="7.9"/>
<path d="M514.5 397.5H519.7" stroke-width="1.25"/>
</g>
<g stroke="#c23a36" stroke-width="1.45" fill="none">
<path d="M529 382.6V390.4M529 398V403M527.6 382.6H530.4M527.6 403H530.4"/>
<rect x="526.4" y="390.4" width="5.2" height="7.6"/>
<path d="M526.4 393.6H531.6" stroke-width="1.25"/>
</g>
<g stroke="#4030a0" stroke-width="1.45" fill="none">
<path d="M540.6 357.6V361.4M540.6 380.4V390M539.2 357.6H542.0M539.2 390H542.0"/>
<rect x="538.0" y="361.4" width="5.2" height="19.0"/>
<path d="M538.0 370.4H543.2" stroke-width="1.25"/>
</g>
<g stroke="#4030a0" stroke-width="1.45" fill="none">
<path d="M552.2 352.5V361.4M552.2 384.4V393M550.8 352.5H553.6M550.8 393H553.6"/>
<rect x="549.6" y="361.4" width="5.2" height="23.0"/>
<path d="M549.6 375H554.8" stroke-width="1.25"/>
</g>
<g stroke="#4030a0" stroke-width="1.45" fill="none">
<path d="M564 355.6V368.4M564 380V385.6M562.6 355.6H565.4M562.6 385.6H565.4"/>
<rect x="561.4" y="368.4" width="5.2" height="11.6"/>
<path d="M561.4 374.4H566.6" stroke-width="1.25"/>
</g>
<g stroke="#4030a0" stroke-width="1.45" fill="none">
<path d="M575.8 380.4V393M575.8 406.4V409.4M574.4 380.4H577.2M574.4 409.4H577.2"/>
<rect x="573.2" y="393" width="5.2" height="13.4"/>
<path d="M573.2 400.4H578.4" stroke-width="1.25"/>
</g>
<g stroke="#5a9e28" stroke-width="1.45" fill="none">
<path d="M587.5 382.5V392.5M587.5 399.5V406.5M586.1 382.5H588.9M586.1 406.5H588.9"/>
<rect x="584.9" y="392.5" width="5.2" height="7.0"/>
<path d="M584.9 396H590.1" stroke-width="1.25"/>
</g>
<g stroke="#5a9e28" stroke-width="1.45" fill="none">
<path d="M599.4 380.4V387M599.4 401V412.4M598.0 380.4H600.8M598.0 412.4H600.8"/>
<rect x="596.8" y="387" width="5.2" height="14.0"/>
<path d="M596.8 396.4H602.0" stroke-width="1.25"/>
</g>
<g stroke="#5a9e28" stroke-width="1.45" fill="none">
<path d="M611 355.6V359.4M611 364.4V371.6M609.6 355.6H612.4M609.6 371.6H612.4"/>
<rect x="608.4" y="359.4" width="5.2" height="5.0"/>
<path d="M608.4 361.6H613.6" stroke-width="1.25"/>
</g>
<g stroke="#c6c6c6" stroke-width="1.45" fill="none">
<path d="M636 400V402.4M636 407.6V413.6M634.6 400H637.4M634.6 413.6H637.4"/>
<rect x="633.4" y="402.4" width="5.2" height="5.2"/>
<path d="M633.4 405H638.6" stroke-width="1.25"/>
</g>
<g stroke="#a6dcea" stroke-width="1.45" fill="none">
<path d="M645.8 285.6V316M645.8 355V361.6M644.4 285.6H647.2M644.4 361.6H647.2"/>
<rect x="643.2" y="316" width="5.2" height="39.0"/>
<path d="M643.2 349.4H648.4" stroke-width="1.25"/>
</g>
<path d="M488.45 278.6V445.70" stroke="#3c3c3c" stroke-width="1.2" fill="none"/>
<path d="M487.85 445.0H651.2" stroke="#646464" stroke-width="1.4" fill="none"/>
<path d="M488.45 286.2h1.9" stroke="#262626" stroke-width="1.05"/>
<text transform="translate(485.8,289.8) rotate(0.03)" font-size="8.9" text-anchor="end" fill="#1e1e1e">25</text>
<path d="M488.45 318.05h1.9" stroke="#262626" stroke-width="1.05"/>
<text transform="translate(485.8,321.7) rotate(0.03)" font-size="8.9" text-anchor="end" fill="#1e1e1e">20</text>
<path d="M488.45 349.9h1.9" stroke="#262626" stroke-width="1.05"/>
<text transform="translate(485.8,353.5) rotate(0.03)" font-size="8.9" text-anchor="end" fill="#1e1e1e">15</text>
<path d="M488.45 381.75h1.9" stroke="#262626" stroke-width="1.05"/>
<text transform="translate(485.9,385.9) rotate(0.03)" font-size="8.9" text-anchor="end" fill="#1e1e1e">10</text>
<path d="M488.45 413.6h1.9" stroke="#262626" stroke-width="1.05"/>
<text transform="translate(485.1,417.2) rotate(0.03)" font-size="8.9" text-anchor="end" fill="#1e1e1e">5</text>
<text transform="translate(494.6,454.3) rotate(45)" font-size="10.8" fill="#c23a36">I<tspan dy="2.6" dx="0.1" font-size="5.8" stroke="#c23a36" stroke-width="0.12">peak</tspan></text>
<text transform="translate(506.2,454.3) rotate(45)" font-size="10.8" fill="#c23a36">I<tspan dy="2.6" dx="0.1" font-size="5.8" stroke="#c23a36" stroke-width="0.12">inf</tspan></text>
<text transform="translate(517.9,454.3) rotate(45)" font-size="10.8" fill="#c23a36">I<tspan dy="2.6" dx="0.1" font-size="5.8" stroke="#c23a36" stroke-width="0.12">dist</tspan></text>
<text transform="translate(527.0,454.5) rotate(45)" font-size="10.4" fill="#c23a36">var</text>
<text transform="translate(541.2,454.3) rotate(45)" font-size="10.8" fill="#4030a0">I<tspan dy="2.6" dx="0.1" font-size="5.8" stroke="#4030a0" stroke-width="0.12">peak</tspan></text>
<text transform="translate(552.9,454.3) rotate(45)" font-size="10.8" fill="#4030a0">I<tspan dy="2.6" dx="0.1" font-size="5.8" stroke="#4030a0" stroke-width="0.12">inf</tspan></text>
<text transform="translate(564.5,454.3) rotate(45)" font-size="10.8" fill="#4030a0">I<tspan dy="2.6" dx="0.1" font-size="5.8" stroke="#4030a0" stroke-width="0.12">dist</tspan></text>
<text transform="translate(573.5,454.5) rotate(45)" font-size="10.4" fill="#4030a0">var</text>
<text transform="translate(587.8,454.3) rotate(45)" font-size="10.8" fill="#5a9e28">I<tspan dy="2.6" dx="0.1" font-size="5.8" stroke="#5a9e28" stroke-width="0.12">peak</tspan></text>
<text transform="translate(599.5,454.3) rotate(45)" font-size="10.8" fill="#5a9e28">I<tspan dy="2.6" dx="0.1" font-size="5.8" stroke="#5a9e28" stroke-width="0.12">inf</tspan></text>
<text transform="translate(611.1,454.3) rotate(45)" font-size="10.8" fill="#5a9e28">I<tspan dy="2.6" dx="0.1" font-size="5.8" stroke="#5a9e28" stroke-width="0.12">dist</tspan></text>
<text transform="translate(632.0,454.8) rotate(45)" font-size="9.9" fill="#c6c6c6">EToS</text>
<text transform="translate(647.6,454.0) rotate(45)" font-size="9.9" fill="#a6dcea">KlustaKwik</text>
<path d="M494.5 474.7V478.5H530.8V474.7" stroke="#c23a36" stroke-width="1.2" fill="none"/>
<text transform="translate(512.6,489.1) rotate(0.03)" font-size="9.8" text-anchor="middle" fill="#c23a36">PCA</text>
<path d="M541.7 474.7V478.5H577.7V474.7" stroke="#4030a0" stroke-width="1.2" fill="none"/>
<text transform="translate(559.7,489.1) rotate(0.03)" font-size="9.8" text-anchor="middle" fill="#4030a0">WD</text>
<path d="M588.8 474.7V478.5H613.3V474.7" stroke="#5a9e28" stroke-width="1.2" fill="none"/>
<text transform="translate(601.0,489.1) rotate(0.03)" font-size="9.8" text-anchor="middle" fill="#5a9e28">wPCA</text>
<text transform="translate(472.6,363.5) rotate(-90)" font-size="11" text-anchor="middle" fill="#1e1e1e">Mean # of clusters</text>
</svg>
</body></html>
